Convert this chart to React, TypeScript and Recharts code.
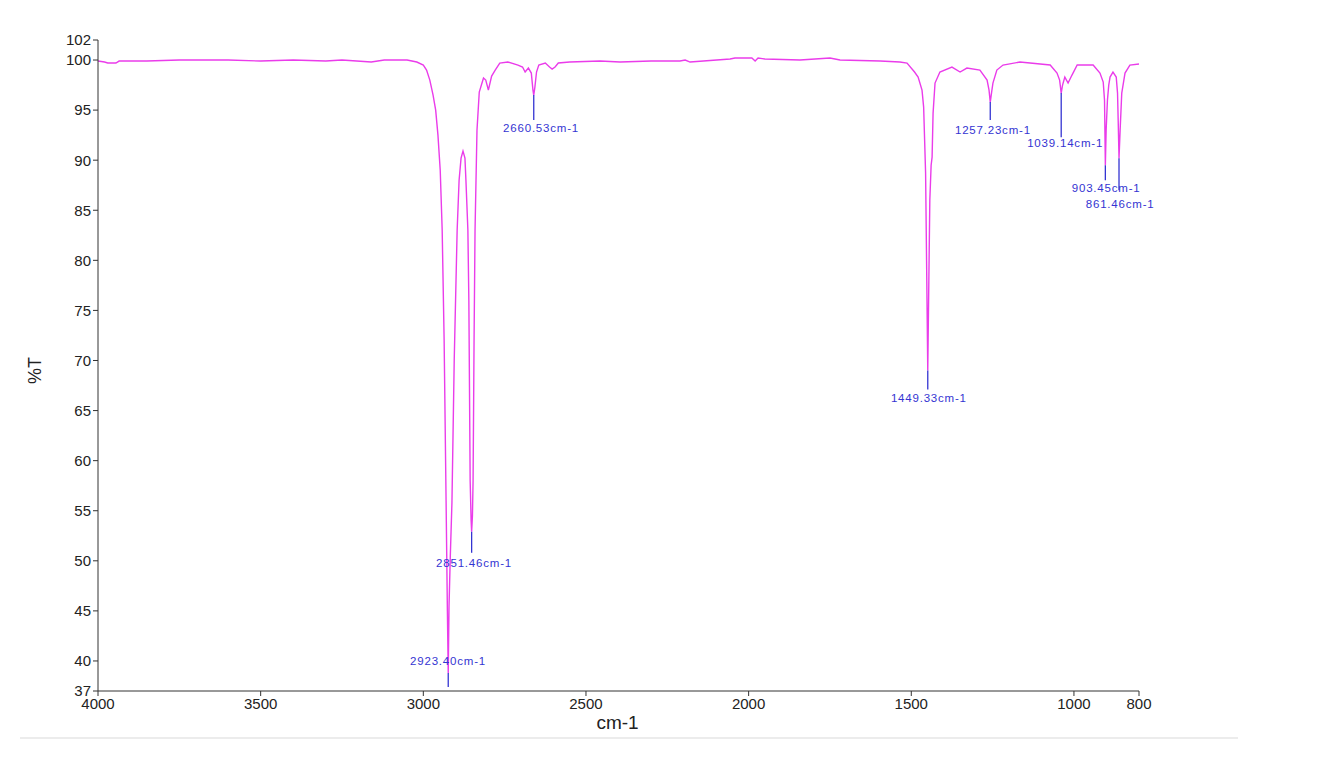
import React from "react";
import {
  ComposedChart,
  Line,
  Scatter,
  XAxis,
  YAxis,
  ReferenceLine,
  Label,
} from "recharts";

// wavenumber (cm-1) and transmittance (%T)
const wavenumbers = [
  4000, 3980, 3970, 3945, 3935, 3850, 3750, 3600, 3500, 3400, 3300, 3250, 3160, 3120, 3050, 3020,
  3000, 2990, 2980, 2970, 2962, 2955, 2948, 2942, 2936, 2930, 2926, 2923.4, 2921, 2917, 2912, 2905,
  2896, 2890, 2884, 2878, 2872, 2869, 2863, 2860, 2856, 2853, 2851.46, 2849, 2847, 2844, 2841, 2835,
  2828, 2815, 2808, 2800, 2790, 2779, 2765, 2740, 2709, 2695, 2687, 2677, 2668, 2663, 2660.53, 2657,
  2652, 2645, 2625, 2612, 2604, 2595, 2585, 2550, 2457, 2395, 2300, 2211, 2195, 2180, 2057, 2042,
  1990, 1980, 1971, 1950, 1842, 1750, 1719, 1596, 1535, 1513, 1490, 1479, 1467, 1462, 1456, 1453,
  1449.33, 1446, 1443, 1439, 1436, 1433, 1427, 1412, 1375, 1350, 1329, 1289, 1267, 1261, 1257.23,
  1253, 1249, 1237, 1218, 1166, 1073, 1052, 1044, 1039.14, 1035, 1028, 1018, 1006, 990, 941, 920,
  910, 906, 903.45, 901, 897, 893, 889, 880, 870, 866, 864, 861.46, 858, 853, 843, 828, 800,
];
const transmittance = [
  99.9, 99.8, 99.7, 99.7, 99.9, 99.9, 100.0, 100.0, 99.9, 100.0, 99.9, 100.0, 99.8, 100.0, 100.0, 99.8,
  99.5, 99.0, 98.0, 96.5, 95.0, 92.5, 89.0, 83.0, 72.0, 56.0, 45.0, 38.8, 45.4, 50.5, 55.8, 70.0,
  83.0, 88.0, 90.2, 90.9, 90.2, 88.0, 83.0, 76.0, 58.0, 54.0, 52.9, 54.5, 58.0, 72.0, 83.0, 93.0,
  96.8, 98.2, 98.0, 97.0, 98.4, 99.0, 99.7, 99.8, 99.5, 99.3, 98.8, 99.2, 98.7, 97.0, 96.5, 97.3,
  98.8, 99.5, 99.7, 99.3, 99.1, 99.3, 99.7, 99.8, 99.9, 99.8, 99.9, 99.9, 100.0, 99.8, 100.1, 100.2,
  100.2, 99.9, 100.2, 100.1, 100.0, 100.2, 100.0, 99.9, 99.8, 99.7, 98.8, 98.3, 97.0, 95.3, 88.7, 80.0,
  69.0, 78.0, 86.0, 89.5, 90.3, 94.7, 97.7, 98.8, 99.3, 98.8, 99.2, 99.0, 98.0, 97.0, 95.8,
  96.8, 97.7, 99.0, 99.5, 99.8, 99.5, 98.7, 98.0, 96.7, 97.5, 98.3, 97.7, 98.5, 99.5, 99.5, 98.7,
  97.8, 96.0, 89.5, 93.0, 96.0, 97.5, 98.3, 98.8, 98.3, 96.7, 94.0, 90.2, 93.0, 96.7, 98.7, 99.5, 99.6,
];

// peak picks: position, minimum, where the marker stops, label anchor
const peakWn = [2923.4, 2851.46, 2660.53, 1449.33, 1257.23, 1039.14, 903.45, 861.46];
const peakMin = [38.8, 52.9, 96.5, 69.0, 95.8, 96.7, 89.5, 90.2];
const peakEnd = [37.4, 50.8, 94.0, 67.1, 94.0, 92.3, 88.0, 87.0];
const labelWn = [2924, 2844, 2638, 1446, 1249, 1027, 901, 858];
const labelT = [40.0, 49.8, 93.2, 66.3, 93.0, 91.7, 87.2, 85.6];
const peakText = [
  "2923.40cm-1",
  "2851.46cm-1",
  "2660.53cm-1",
  "1449.33cm-1",
  "1257.23cm-1",
  "1039.14cm-1",
  "903.45cm-1",
  "861.46cm-1",
];

const xTicks = [4000, 3500, 3000, 2500, 2000, 1500, 1000, 800];
const yTicks = [37, 40, 45, 50, 55, 60, 65, 70, 75, 80, 85, 90, 95, 100, 102];

const spectrum = wavenumbers.map((wn, i) => ({ wn, t: transmittance[i] }));
const labels = labelWn.map((wn, i) => ({ wn, t: labelT[i], text: peakText[i] }));

const FONT = "Arial, 'Liberation Sans', sans-serif";
const MAGENTA = "#ea3cea";
const BLUE = "#3434d2";

const PeakLabel = (props: any) => {
  const { cx, cy, payload } = props;
  return (
    <text
      x={cx}
      y={cy}
      textAnchor="middle"
      dominantBaseline="central"
      fontFamily={FONT}
      fontSize={11.5}
      letterSpacing={0.8}
      fill={BLUE}
    >
      {payload.text}
    </text>
  );
};

const YTitle = (props: any) => {
  const vb = props.viewBox;
  const x = vb.x - 13;
  const y = vb.y + vb.height / 2 + 5;
  return (
    <text
      x={x}
      y={y}
      transform={`rotate(-90, ${x}, ${y})`}
      textAnchor="middle"
      dominantBaseline="central"
      fontFamily={FONT}
      fontSize={18}
      fill="#222"
    >
      %T
    </text>
  );
};

const XTitle = (props: any) => {
  const vb = props.viewBox;
  return (
    <text
      x={vb.x + vb.width / 2 - 1}
      y={vb.y + 31}
      textAnchor="middle"
      dominantBaseline="central"
      fontFamily={FONT}
      fontSize={19}
      fill="#222"
    >
      cm-1
    </text>
  );
};

export default function App() {
  const tick = { fontFamily: FONT, fontSize: 15, fill: "#222" };
  return (
    <div style={{ position: "relative", width: 1300, height: 745 }}>
      <ComposedChart
        width={1300}
        height={745}
        margin={{ top: 32, right: 169, left: 40, bottom: 32 }}
      >
        <XAxis
          dataKey="wn"
          type="number"
          domain={[800, 4000]}
          reversed
          ticks={xTicks}
          interval={0}
          height={30}
          tickSize={5}
          tick={tick}
          stroke="#333"
        >
          <Label content={XTitle} />
        </XAxis>
        <YAxis
          type="number"
          domain={[37, 102]}
          ticks={yTicks}
          interval={0}
          width={50}
          tickSize={5}
          tick={tick}
          stroke="#333"
        >
          <Label content={YTitle} />
        </YAxis>
        <Line
          data={spectrum}
          dataKey="t"
          type="linear"
          stroke={MAGENTA}
          strokeWidth={1.4}
          dot={false}
          activeDot={false}
          isAnimationActive={false}
        />
        {peakWn.map((wn, i) => (
          <ReferenceLine
            key={wn}
            segment={[
              { x: wn, y: peakMin[i] },
              { x: wn, y: peakEnd[i] },
            ]}
            stroke={BLUE}
            strokeWidth={1.3}
            ifOverflow="visible"
          />
        ))}
        <Scatter
          data={labels}
          dataKey="t"
          shape={PeakLabel}
          isAnimationActive={false}
        />
      </ComposedChart>
      <div
        style={{
          position: "absolute",
          left: 12,
          top: 729,
          width: 1218,
          height: 2,
          background: "#ececec",
        }}
      />
    </div>
  );
}
